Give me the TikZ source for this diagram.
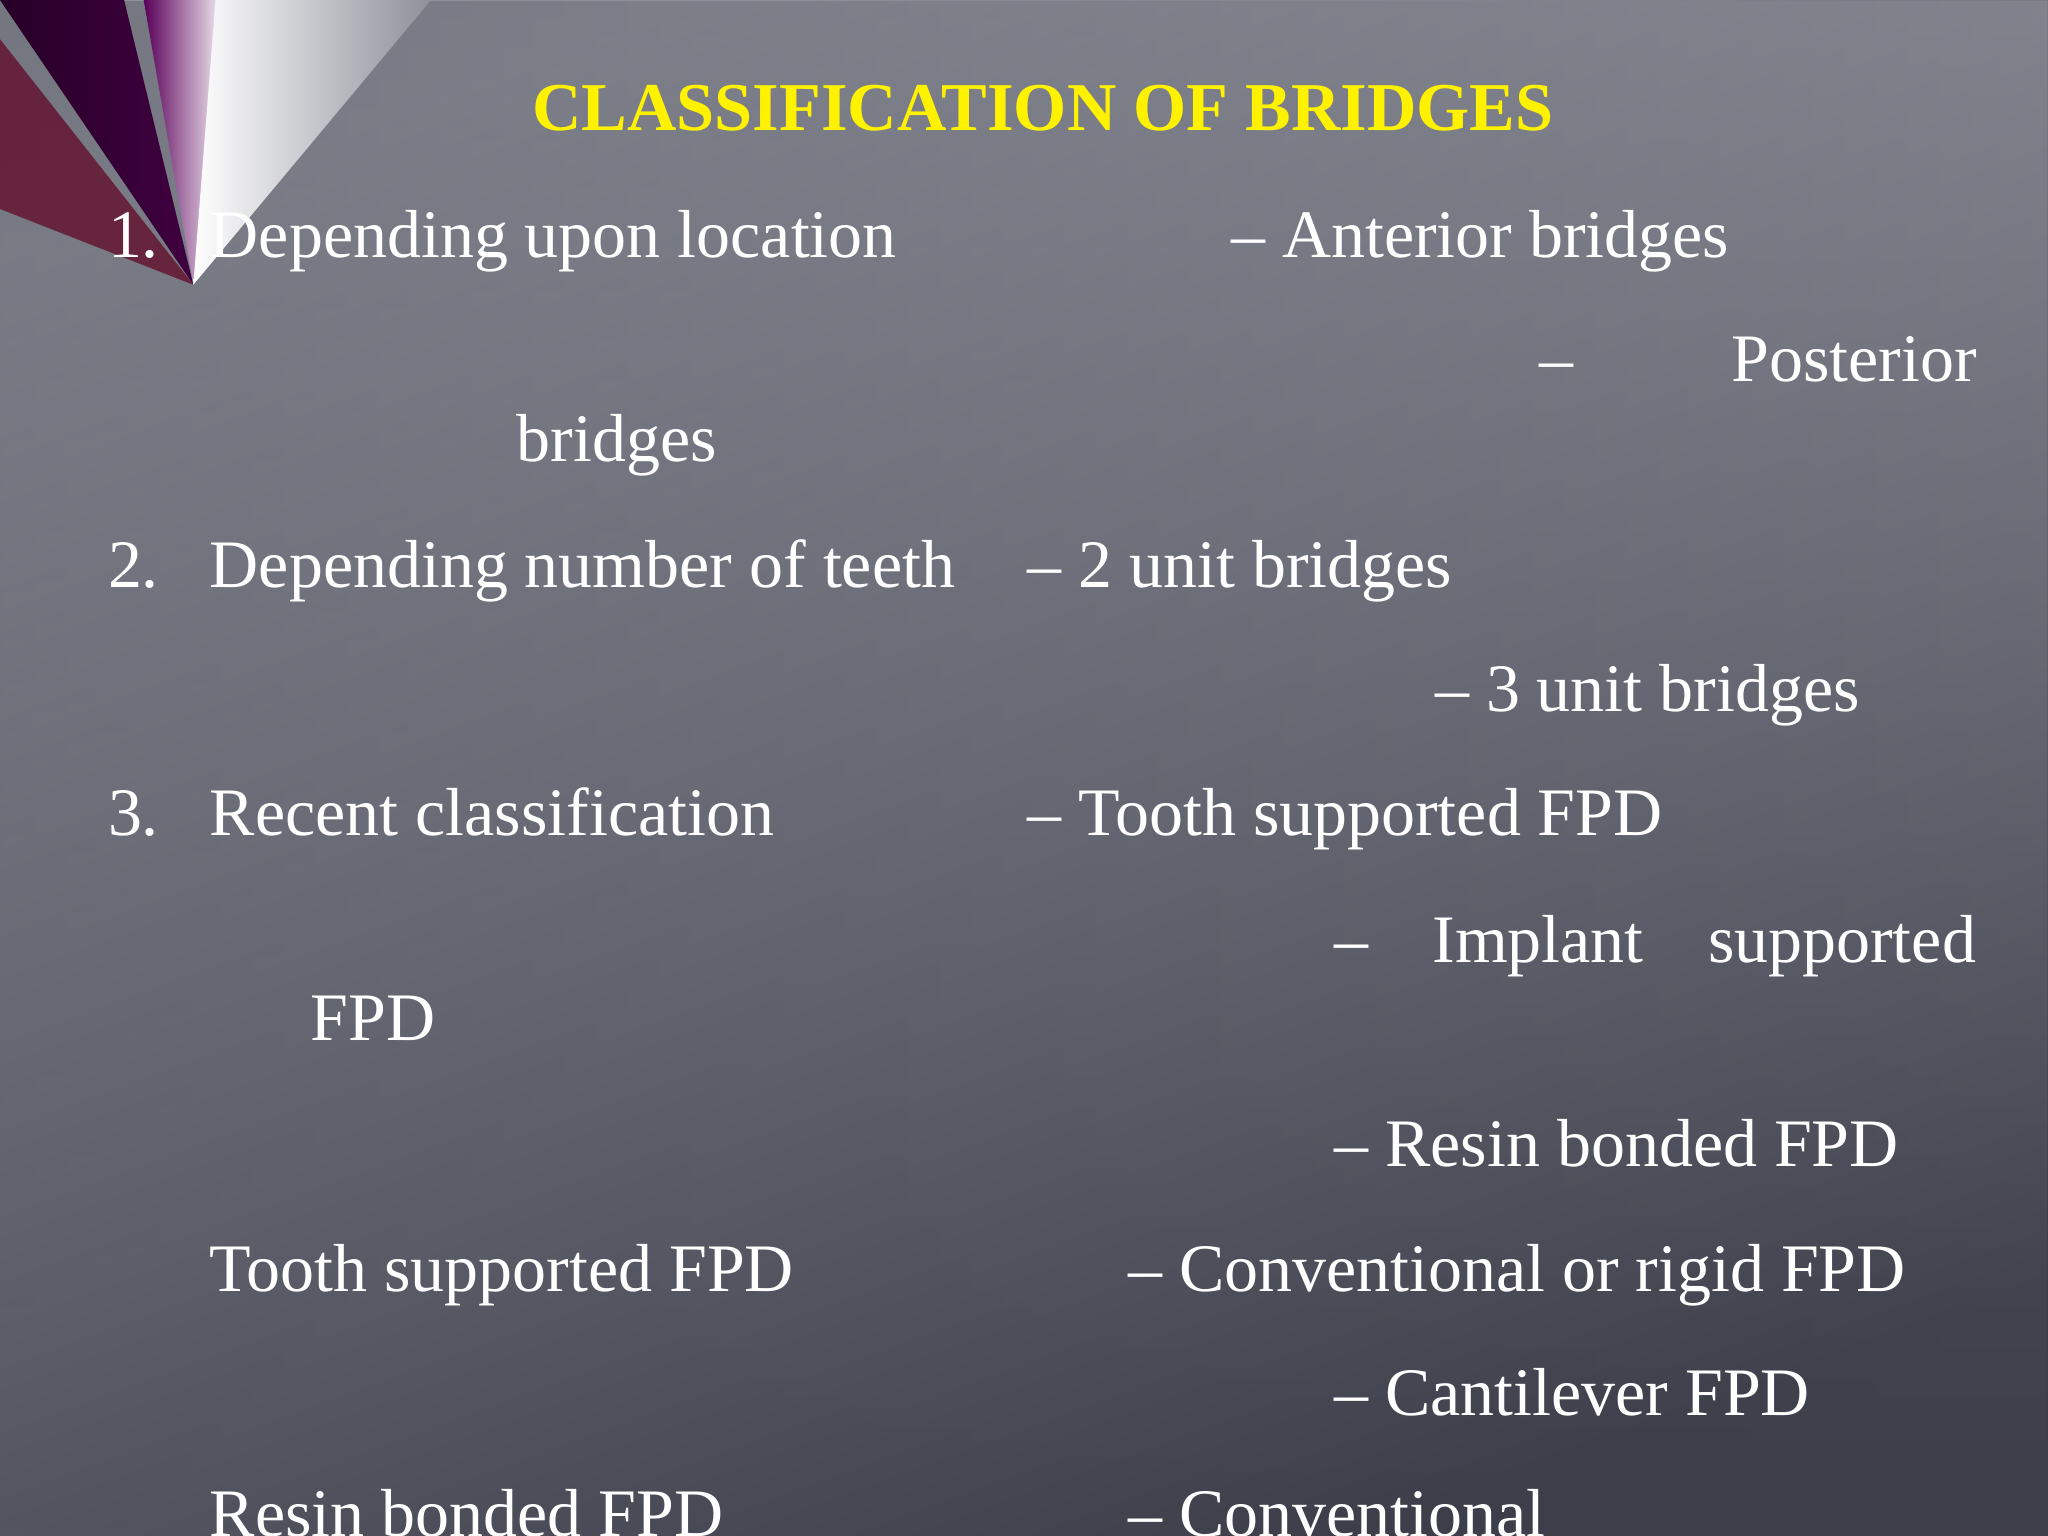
\documentclass[tikz,border=0pt]{standalone}
\usepackage{fontspec}
\setmainfont{Liberation Serif}
\usetikzlibrary{fadings}
\begin{document}
\begin{tikzpicture}[x=0.1mm,y=-0.1mm,
  t/.style={anchor=base west,inner sep=0pt,text=white,font=\fontsize{14.8}{16}\selectfont},
  ttl/.style={anchor=base west,inner sep=0pt,text=yellow,font=\fontsize{14.9}{16}\selectfont\bfseries}]
\definecolor{bgA}{HTML}{8E909A}\definecolor{bgB}{HTML}{3C3F4A}
\useasboundingbox (0,0) rectangle (1568,1176);
\shade[top color=bgA,bottom color=bgB,shading angle=20] (0,0) rectangle (1568,1176);
\shade[left color=bgB!80!bgA,right color=bgA,opacity=0.4,path fading=south] (0,0) rectangle (1568,1176);
% corner light streak
\shade[left color=black!70!violet,right color=violet!50!black] (0,0) -- (148,218) -- (95,0) -- cycle;
\fill[purple!50!black,opacity=0.7] (0,30) -- (148,218) -- (0,160) -- cycle;
\shade[left color=violet!70!black,right color=white] (110,0) -- (148,218) -- (175,0) -- cycle;
\shade[left color=white,right color=bgA] (165,0) -- (148,218) -- (330,0) -- cycle;
\node[ttl] (title) at (407,100) {CLASSIFICATION OF BRIDGES};
\node[t] (n1) at (82,197) {1.};
\node[t] (a1) at (160,197) {Depending upon location};
\node[t] (b1) at (942,197) {– Anterior bridges};
\node[t] (b2) at (1178,292) {–};
\node[t] (b2b) at (1325,292) {Posterior};
\node[t] (b2c) at (395,353) {bridges};
\node[t] (n2) at (82,450) {2.};
\node[t] (a2) at (160,450) {Depending number of teeth};
\node[t] (c1) at (786,450) {– 2 unit bridges};
\node[t] (c2) at (1098,545) {– 3 unit bridges};
\node[t] (n3) at (82,640) {3.};
\node[t] (a3) at (160,640) {Recent classification};
\node[t] (d1) at (786,640) {– Tooth supported FPD};
\node[t] (d2) at (1021,737) {–};
\node[t] (d2b) at (1096,737) {Implant};
\node[t] (d2c) at (1307,737) {supported};
\node[t] (d2d) at (237,797) {FPD};
\node[t] (d3) at (1021,893) {– Resin bonded FPD};
\node[t] (a4) at (160,989) {Tooth supported FPD};
\node[t] (e1) at (863,989) {– Conventional or rigid FPD};
\node[t] (e2) at (1021,1084) {– Cantilever FPD};
\node[t] (a5) at (160,1176) {Resin bonded FPD};
\node[t] (f1) at (863,1176) {– Conventional};
\end{tikzpicture}
\end{document}
